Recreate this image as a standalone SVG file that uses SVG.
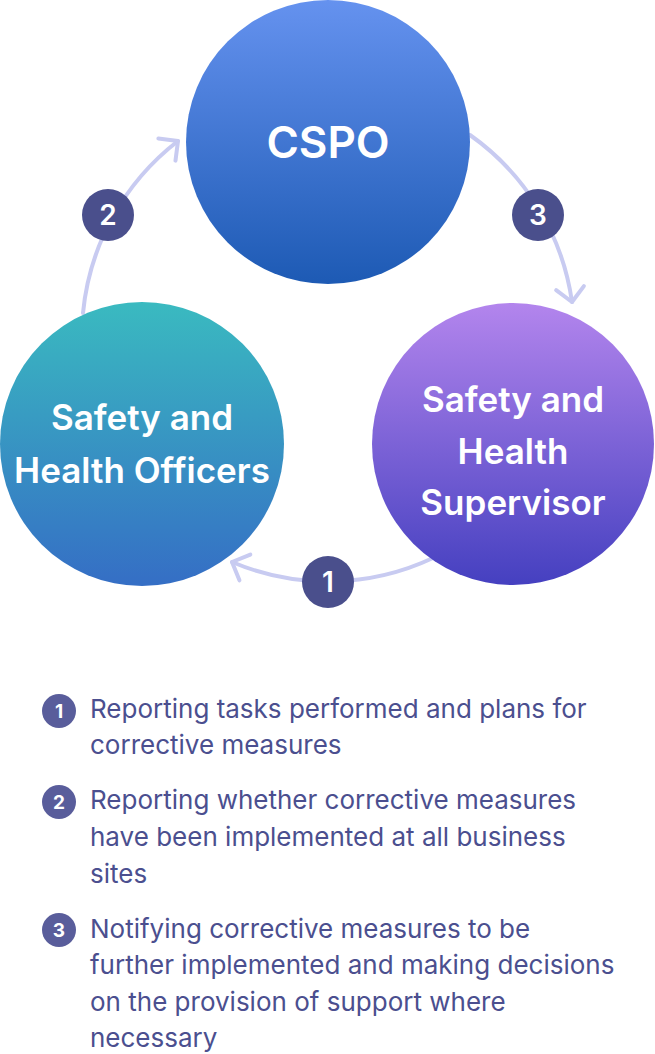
<svg xmlns="http://www.w3.org/2000/svg" width="655" height="1054" viewBox="0 0 655 1054">
<defs>
  <linearGradient id="gCspo" x1="0" y1="0" x2="0" y2="1">
    <stop offset="0" stop-color="#6592ef"/>
    <stop offset="1" stop-color="#1d5ab4"/>
  </linearGradient>
  <linearGradient id="gOff" x1="0" y1="0" x2="0" y2="1">
    <stop offset="0" stop-color="#3abac0"/>
    <stop offset="1" stop-color="#356ec5"/>
  </linearGradient>
  <linearGradient id="gSup" x1="0" y1="0" x2="0" y2="1">
    <stop offset="0" stop-color="#b385ed"/>
    <stop offset="1" stop-color="#4540c0"/>
  </linearGradient>
  <marker id="chev" markerUnits="userSpaceOnUse" markerWidth="40" markerHeight="40" refX="20" refY="20" orient="auto" overflow="visible">
    <path d="M 6 6 L 20 20 L 6 34" fill="none" stroke="#c8cbf1" stroke-width="4" stroke-linecap="round" stroke-linejoin="round"/>
  </marker>
</defs>
<style>
  .arc { fill: none; stroke: #c8cbf1; stroke-width: 4; stroke-linecap: round; }
  .title { font-family: Inter, "Noto Sans", sans-serif; font-weight: 600; fill: #ffffff; text-anchor: middle; }
  .badge { fill: #4a4f8c; }
  .badgeNum { font-family: Inter, "Noto Sans", sans-serif; font-weight: 600; font-size: 28px; fill: #ffffff; text-anchor: middle; }
  .lbadge { fill: #595d9b; }
  .lnum { font-family: Inter, "Noto Sans", sans-serif; font-weight: 700; font-size: 19px; fill: #ffffff; text-anchor: middle; }
  .legend { font-family: Inter, "Noto Sans", sans-serif; font-weight: 400; font-size: 26px; fill: #4b4f8f; }
</style>

<g id="connectors">
  <path class="arc" d="M 83 313 A 247 247 0 0 1 178 141" marker-end="url(#chev)"/>
  <path class="arc" d="M 470 135 A 247 247 0 0 1 572 302" marker-end="url(#chev)"/>
  <path class="arc" d="M 433 558 A 247 247 0 0 1 232 562" marker-end="url(#chev)"/>
</g>

<g id="node-cspo">
  <circle cx="328" cy="142" r="142" fill="url(#gCspo)"/>
  <text class="title" x="328" y="158" font-size="44">CSPO</text>
</g>

<g id="node-officers">
  <circle cx="142" cy="444" r="142" fill="url(#gOff)"/>
  <text class="title" x="142" y="430" font-size="35">Safety and</text>
  <text class="title" x="142" y="483" font-size="35">Health Officers</text>
</g>

<g id="node-supervisor">
  <circle cx="513" cy="444" r="141" fill="url(#gSup)"/>
  <text class="title" x="513" y="412" font-size="35">Safety and</text>
  <text class="title" x="513" y="464" font-size="35">Health</text>
  <text class="title" x="513" y="515" font-size="35">Supervisor</text>
</g>

<g id="badge-1">
  <circle class="badge" cx="328" cy="582" r="26"/>
  <text class="badgeNum" x="328" y="592">1</text>
</g>
<g id="badge-2">
  <circle class="badge" cx="108" cy="215" r="26"/>
  <text class="badgeNum" x="108" y="225">2</text>
</g>
<g id="badge-3">
  <circle class="badge" cx="538" cy="215" r="26"/>
  <text class="badgeNum" x="538" y="225">3</text>
</g>

<g id="legend-1">
  <circle class="lbadge" cx="59" cy="711" r="17"/>
  <text class="lnum" x="59" y="718">1</text>
  <text class="legend" x="90" y="718">Reporting tasks performed and plans for</text>
  <text class="legend" x="90" y="754">corrective measures</text>
</g>
<g id="legend-2">
  <circle class="lbadge" cx="59" cy="802" r="17"/>
  <text class="lnum" x="59" y="809">2</text>
  <text class="legend" x="90" y="809">Reporting whether corrective measures</text>
  <text class="legend" x="90" y="846">have been implemented at all business</text>
  <text class="legend" x="90" y="883">sites</text>
</g>
<g id="legend-3">
  <circle class="lbadge" cx="59" cy="930" r="17"/>
  <text class="lnum" x="59" y="937">3</text>
  <text class="legend" x="90" y="938">Notifying corrective measures to be</text>
  <text class="legend" x="90" y="974">further implemented and making decisions</text>
  <text class="legend" x="90" y="1011">on the provision of support where</text>
  <text class="legend" x="90" y="1047">necessary</text>
</g>
</svg>
